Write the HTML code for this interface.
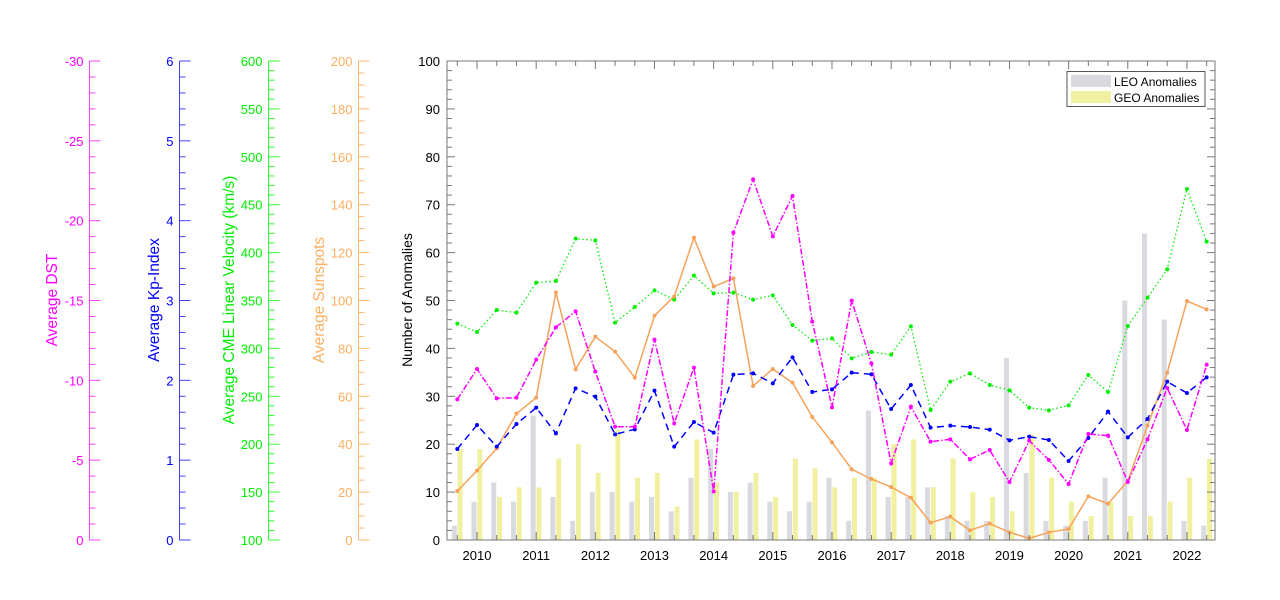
<!DOCTYPE html>
<html><head><meta charset="utf-8"><style>
html,body{margin:0;padding:0;background:#fff;width:1280px;height:600px;overflow:hidden}
svg{display:block;font-family:"Liberation Sans",sans-serif}
</style></head><body>
<svg id="s" width="1280" height="600" xmlns="http://www.w3.org/2000/svg"></svg>
<script>
var s=document.getElementById('s'),h='';
function L(x1,y1,x2,y2,c,w){h+='<line x1="'+x1+'" y1="'+y1+'" x2="'+x2+'" y2="'+y2+'" stroke="'+c+'" stroke-width="'+(w||1)+'"/>';}
function T(x,y,t,c,a,sz,rot){h+='<text x="'+x+'" y="'+y+'" fill="'+c+'" font-size="'+(sz||13)+'" text-anchor="'+(a||'middle')+'"'+(rot?' transform="rotate(-90 '+x+' '+y+')"':'')+'>'+t+'</text>';}
var Y0=540,Y1=61,H=Y0-Y1;
function axis(x,c,lc,labels,minorPer,title,tx){
 L(x,Y1,x,Y0,c);
 var n=labels.length-1,tot=n*minorPer;
 for(var i=0;i<=tot;i++){var y=Y0-H*i/tot;var maj=i%minorPer==0;L(x,y,x+(maj?11:6),y,c);}
 for(var j=0;j<=n;j++){T(x-6,Y0-H*j/n+5,labels[j],lc,'end',13);}
 T(tx,300,title,lc,'middle',15.5,true);
}
axis(89.5,'#ff40ff','#ff00ff',['0','-5','-10','-15','-20','-25','-30'],5,'Average DST',57);
axis(179.5,'#4040ff','#0000ff',['0','1','2','3','4','5','6'],5,'Average Kp-Index',159);
axis(268.5,'#30ff30','#00ee00',['100','150','200','250','300','350','400','450','500','550','600'],5,'Average CME Linear Velocity (km/s)',234);
axis(358.5,'#ffb870','#ffae60',['0','20','40','60','80','100','120','140','160','180','200'],4,'Average Sunspots',324);
var X0=447,X1=1215;
function px(i){return 457.3+19.72*i;}
function vy(v){return Y0-v*4.79;}
var leo=[3,8,12,8,26,9,4,10,10,8,9,6,13,19,10,12,8,6,8,13,4,27,9,9,11,5,4,4,38,14,4,3,4,13,50,64,46,4,3];
var geo=[19,19,9,11,11,17,20,14,23,13,14,7,21,12,10,14,9,17,15,11,13,13,20,21,11,17,10,9,6,22,13,8,5,8,5,5,8,13,17];
for(var i=0;i<39;i++){var x=px(i);
 h+='<rect x="'+(x-5.5)+'" y="'+vy(leo[i])+'" width="5" height="'+(leo[i]*4.79)+'" fill="#d9d9e0"/>';
 h+='<rect x="'+(x+0.3)+'" y="'+vy(geo[i])+'" width="5" height="'+(geo[i]*4.79)+'" fill="#f0f0a0"/>';}
function zy(a,b){return a.map(function(v){return 50+v/3;}).concat(b.map(function(v){return 50+v/3;}));}
var green=zy([821,846,780,788,698,693,566,571,818,771,721,749,677,730,728,749,736,825,872,865],[925,906,914,829,1080,995,970,1005,1021,1073,1081,1066,975,1026,828,743,658,417,575]);
var blue=zy([1197,1125,1190,1122,1073,1150,1015,1040,1153,1138,1022,1190,1116,1148,974,970,1000,922,1026,1018],[968,973,1077,1005,1133,1127,1131,1139,1171,1160,1170,1233,1164,1085,1162,1107,995,1029,982]);
var mag=zy([1048,957,1045,1043,929,832,784,965,1130,1130,869,1120,953,1324,548,388,559,438,815,1072],[752,940,1240,1070,1175,1168,1228,1200,1296,1172,1230,1302,1152,1157,1296,1168,1014,1140,944]);
var org=zy([1323,1262,1195,1091,1043,727,958,860,905,983,797,739,563,710,685,1008,957,998,1101,1177],[1258,1287,1311,1343,1418,1400,1441,1421,1447,1465,1447,1437,1339,1361,1293,1127,968,753,778]);
function series(d,c,dash,w){var p=d.map(function(y,i){return px(i).toFixed(1)+','+y.toFixed(1);}).join(' ');
 h+='<polyline points="'+p+'" fill="none" stroke="'+c+'" stroke-width="'+w+'"'+(dash?' stroke-dasharray="'+dash+'"':'')+'/>';
 d.forEach(function(y,i){h+='<circle cx="'+px(i)+'" cy="'+y+'" r="2" fill="'+c+'"/>';});}
series(green,'#00ee00','1.5,2.5',1.3);
series(org,'#f5a35a','',1.5);
series(blue,'#0000ff','7,5',1.5);
series(mag,'#ff00ff','6,2,1.5,2',1.5);
h+='<rect x="'+X0+'" y="'+Y1+'" width="'+(X1-X0)+'" height="'+H+'" fill="none" stroke="#777" stroke-width="1"/>';
for(var v=0;v<=100;v+=2){var y=vy(v),m=v%10==0;L(X0,y,X0+(m?8:5),y,'#777');L(X1,y,X1-(m?8:5),y,'#777');
 if(m)T(440,y+5,v,'#000','end',13);}
for(var i=0;i<39;i++){var x=px(i),m=(i%3==1);L(x,Y0,x,Y0-(m?8:5),'#777');L(x,Y1,x,Y1+(m?8:5),'#777');}
for(var k=0;k<13;k++)T(px(1+3*k),560,2010+k,'#000','middle',13);
T(412,300,'Number of Anomalies','#000','middle',14,true);
h+='<rect x="1067" y="71.5" width="138" height="35" fill="#fff" stroke="#555"/>';
h+='<rect x="1071" y="75" width="40" height="12" fill="#d9d9e0"/><rect x="1071" y="91" width="40" height="12" fill="#f0f0a0"/>';
T(1114,86,'LEO Anomalies','#000','start',12);T(1114,102,'GEO Anomalies','#000','start',12);
s.innerHTML=h;
</script>
</body></html>
